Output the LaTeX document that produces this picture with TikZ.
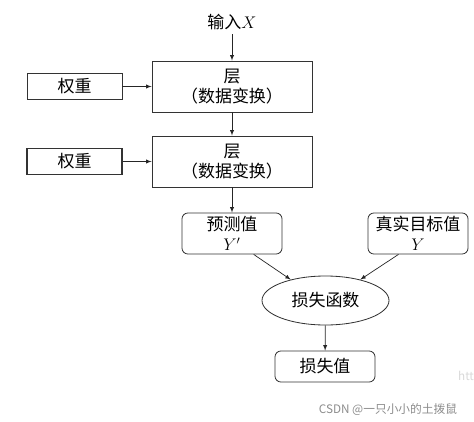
\documentclass[tikz,border=0pt]{standalone}
\usepackage{fontspec}
\setmainfont{Noto Sans CJK SC}
\usepackage{tikz}
\usetikzlibrary{arrows}
\usetikzlibrary{shapes.geometric}
\tikzset{l/.style={font=\fontsize{14.5}{17}\selectfont}}
\tikzset{m/.style={font=\fontsize{10}{10}\selectfont, text=black!45}}
\tikzset{box/.style={l, draw=black!80, line width=0.7pt, inner sep=0pt, align=center}}
\tikzset{layer/.style={box, minimum width=4.8cm, minimum height=1.53cm}}
\tikzset{weight/.style={box, minimum width=2.85cm, minimum height=0.78cm}}
\tikzset{val/.style={box, rounded corners=5pt, minimum width=3cm}}

\begin{document}
\begin{tikzpicture}[x=0.03cm, y=-0.03cm, >=latex, every edge/.style={draw, black!85, line width=0.6pt}]
            \useasboundingbox (0,0) rectangle (474,422);
            \node[l] (X) at (232,22) {输入$X$};
            \node[layer] (L1) at (232,86.5) {层\\（数据变换）}
              edge [<-] (X);
            \node[weight] (W1) at (74.5,86.5) {权重}
              edge [->] (L1);
            \node[layer] (L2) at (232,161.5) {层\\（数据变换）}
              edge [<-] (L1);
            \node[weight, line width=1pt] (W2) at (74.5,161.5) {权重}
              edge [->] (L2);
            \node[val, minimum height=1.23cm] (P) at (232,233.5) {预测值\\$Y'$}
              edge [<-] (L2);
            \node[val, minimum height=1.23cm] (T) at (418,233.5) {真实目标值\\$Y$};
            \node[box, ellipse, minimum width=3.81cm, minimum height=1.47cm] (F) at (325.5,300.5) {损失函数};
            \draw[->, black!85, line width=0.6pt] (P.-44) -- (F.149);
            \draw[->, black!85, line width=0.6pt] (T.-133) -- (F.31);
            \node[val, minimum height=0.93cm] (V) at (325,366.5) {损失值}
              edge [<-] (F);
            \node[m] (C) at (388,410) {CSDN @一只小小的土拨鼠};
            \node[m, text=black!15] (H) at (466,376) {htt};
          \end{tikzpicture}
\end{document}
